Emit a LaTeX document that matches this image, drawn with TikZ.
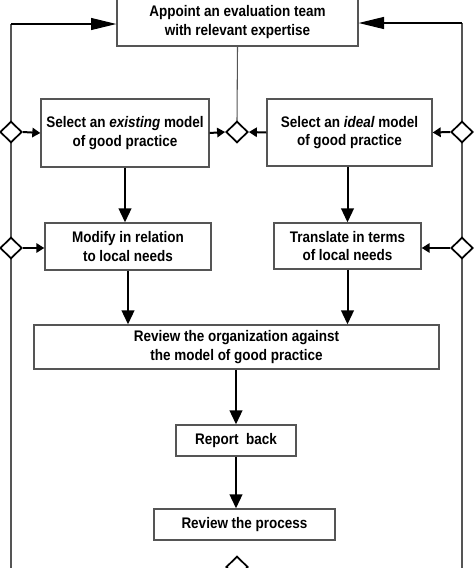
\documentclass[tikz,border=0pt]{standalone}
\usepackage{fontspec}
\setmainfont{Liberation Sans}[FakeStretch=0.88]
\usetikzlibrary{arrows.meta}
\usetikzlibrary{shapes.geometric}
\definecolor{boxline}{RGB}{85,85,85}

\tikzset{
  stepbox/.style={draw=boxline,line width=1pt,align=center,inner sep=0pt,
    font=\fontsize{11.5}{14}\selectfont\bfseries},
  gate/.style={diamond,draw,fill=white,line width=1.3pt,inner sep=0pt,
    minimum width=16.5pt,minimum height=16pt},
  bigarrow/.style={line width=1.5pt,-{Triangle[length=10.5pt,width=9.5pt]}},
  smallarrow/.style={line width=1.5pt,-{Triangle[length=6pt,width=7pt]}},
  feedback/.style={line width=0.8pt,-{Triangle[length=19pt,width=9pt]}},
  rail/.style={line width=0.8pt,draw=boxline},
}

\begin{document}
\begin{tikzpicture}[x=0.75pt,y=-0.75pt]
  \useasboundingbox (0,0) rectangle (474,568);
  % boxes
  \node[stepbox,minimum width=180.75pt,minimum height=36pt] (team) at (237.5,22)
    {Appoint an evaluation team\\with relevant expertise};
  \node[stepbox,minimum width=126pt,minimum height=51pt] (exist) at (125,133)
    {Select an \textit{existing} model\\of good practice};
  \node[stepbox,minimum width=123.75pt,minimum height=50.25pt] (ideal) at (349.5,132.5)
    {Select an \textit{ideal} model\\of good practice};
  \node[stepbox,minimum width=124.5pt,minimum height=35.25pt] (modify) at (128,246.5)
    {Modify in relation\\to local needs};
  \node[stepbox,minimum width=110.25pt,minimum height=34.5pt] (transl) at (347.5,246)
    {Translate in terms\\of local needs};
  \node[stepbox,minimum width=303.75pt,minimum height=33pt] (review) at (236.5,347)
    {Review the organization against\\the model of good practice};
  \node[stepbox,minimum width=90pt,minimum height=23.25pt] (report) at (236,440.5)
    {Report\ \ back};
  \node[stepbox,minimum width=135.75pt,minimum height=23.25pt] (process) at (244.5,524.5)
    {Review the process};
  % side rails
  \coordinate (ltop) at (11,24);
  \coordinate (lbot) at (11,580);
  \coordinate (rtop) at (462,23);
  \coordinate (rbot) at (462,580);
  \draw[rail] (lbot) -- (ltop);
  \draw[rail] (rbot) -- (rtop);
  \draw[feedback] (ltop) -- (ltop -| team.west);
  \draw[feedback] (rtop) -- (rtop -| team.east);
  \draw[rail] (team.south) -- (237,122);
  % gates
  \node[gate] (gl1) at (11,132) {};
  \node[gate] (gl2) at (11,248) {};
  \node[gate] (gm) at (237,132) {};
  \node[gate] (gr1) at (462,132) {};
  \node[gate] (gr2) at (462,248) {};
  \node[gate] (gb) at (237,567) {};
  % flow
  \draw[smallarrow] (gl1.east) -- (exist.west);
  \draw[smallarrow] (exist.east) -- (gm.west);
  \draw[smallarrow] (ideal.west) -- (gm.east);
  \draw[smallarrow] (gr1.west) -- (ideal.east);
  \draw[smallarrow] (gl2.east) -- (gl2.east -| modify.west);
  \draw[smallarrow] (gr2.west) -- (gr2.west -| transl.east);
  \draw[bigarrow] (exist.south) -- (exist.south |- modify.north);
  \draw[bigarrow] (ideal.south -| transl.north) -- (transl.north);
  \draw[bigarrow] (modify.south) -- (modify.south |- review.north);
  \draw[bigarrow] (transl.south) -- (transl.south |- review.north);
  \draw[bigarrow] (review.south -| report.north) -- (report.north);
  \draw[bigarrow] (report.south) -- (report.south |- process.north);
\end{tikzpicture}
\end{document}
